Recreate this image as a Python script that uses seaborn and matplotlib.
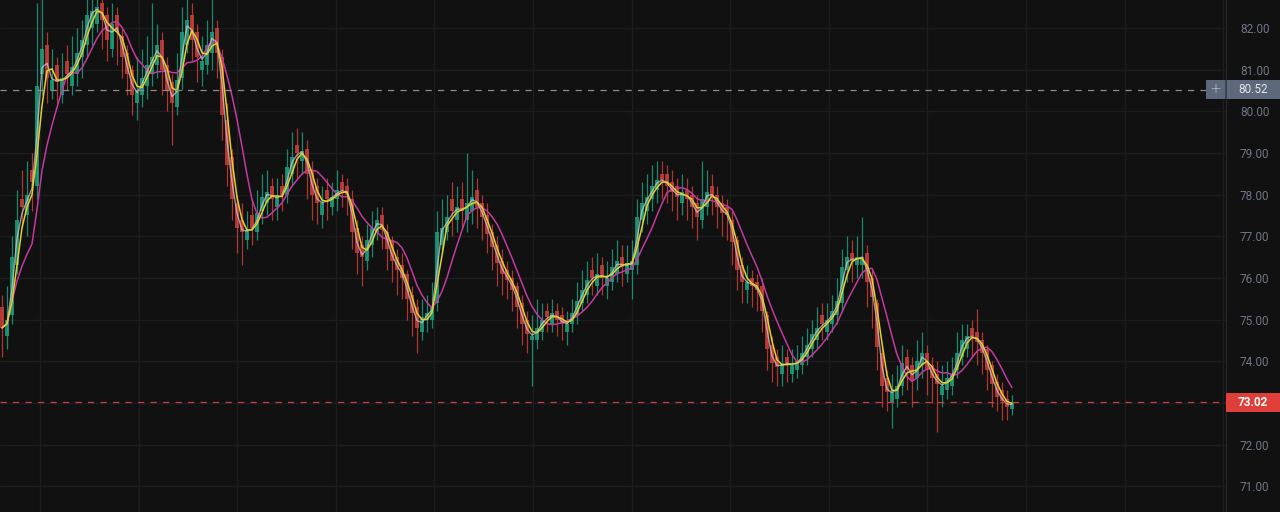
import matplotlib
matplotlib.use('Agg')
import matplotlib.pyplot as plt
from matplotlib.patches import Rectangle
import seaborn as sns
import numpy as np
import pandas as pd

BG_COLOR = '#111111'
GRID_COLOR = '#1d1d1f'
UP_COLOR = '#1f9e7c'
DOWN_COLOR = '#c8403a'
LABEL_COLOR = '#6e7585'

# candle data
closes = [
    74.8, 75.0, 76.5, 77.4, 77.7, 78.0, 78.3, 80.6, 81.5, 80.8,
    80.75, 80.7, 80.8, 80.9, 81.05, 81.4, 81.7, 82.3, 82.4, 82.5,
    82.2, 81.7, 82.1, 81.9, 81.3, 80.9, 80.4, 80.5, 80.8, 81.1,
    81.3, 81.6, 81.0, 80.5, 80.2, 80.75, 81.9, 82.2, 81.7, 81.3,
    81.2, 81.6, 81.9, 81.4, 79.9, 78.7, 77.9, 77.2, 77.1, 77.15,
    77.2, 77.55, 77.95, 78.05, 77.9, 77.95, 78.0, 78.65, 78.9, 79.0,
    79.05, 78.5, 78.0, 77.8, 77.8, 77.9, 77.95, 78.1, 78.1, 78.0,
    77.1, 76.6, 76.5, 76.9, 77.2, 77.4, 77.15, 76.7, 76.4, 76.2,
    76.0, 75.5, 75.15, 74.8, 75.05, 75.15, 75.3, 77.1, 77.2, 77.45,
    77.6, 77.7, 77.6, 77.8, 77.95, 77.7, 77.45, 77.05, 76.75, 76.35,
    76.1, 75.95, 75.7, 75.3, 74.9, 74.65, 74.6, 74.8, 75.0, 75.05,
    75.15, 75.0, 74.9, 74.9, 75.15, 75.45, 75.7, 75.95, 76.0, 76.1,
    76.0, 76.0, 76.25, 76.4, 76.25, 76.35, 76.4, 77.45, 77.8, 77.95,
    78.2, 78.35, 78.35, 78.2, 78.05, 77.95, 78.05, 77.9, 77.7, 77.45,
    77.9, 78.05, 77.95, 77.7, 77.55, 77.5, 76.85, 76.2, 75.9, 75.9,
    75.8, 75.7, 75.2, 74.3, 73.95, 73.85, 73.95, 73.95, 73.9, 74.0,
    74.2, 74.4, 74.65, 74.8, 74.9, 75.0, 75.2, 75.45, 76.25, 76.5,
    76.4, 76.5, 76.5, 75.9, 75.55, 74.35, 73.4, 73.25, 73.25, 73.4,
    73.95, 73.8, 73.55, 74.0, 74.2, 73.8, 73.6, 73.45, 73.4, 73.6,
    73.7, 74.2, 74.5, 74.6, 74.6, 74.45, 74.2, 73.8, 73.45, 73.15,
    73.05, 72.9, 73.02,
]
opens = [
    75.3, 74.6, 75.1, 76.3, 77.9, 77.5, 78.6, 78.2, 80.9, 81.6,
    80.5, 81.1, 80.4, 81.2, 80.6, 80.9, 81.3, 81.6, 82.0, 82.1,
    82.6, 82.3, 81.5, 82.3, 81.8, 81.4, 81.0, 80.2, 80.4, 80.6,
    80.9, 81.1, 81.7, 81.1, 80.7, 80.1, 80.8, 81.6, 82.3, 81.9,
    81.0, 81.1, 81.4, 82.0, 81.3, 79.8, 78.9, 77.8, 77.4, 76.9,
    77.5, 77.1, 77.6, 77.8, 78.2, 77.7, 78.2, 78.0, 78.5, 79.2,
    78.8, 79.1, 78.6, 78.2, 77.5, 78.1, 77.7, 77.9, 78.3, 78.2,
    77.9, 77.2, 76.8, 76.4, 76.8, 77.1, 77.5, 77.1, 76.9, 76.5,
    76.3, 76.1, 75.6, 75.3, 74.7, 75.0, 75.0, 75.4, 76.8, 77.1,
    77.9, 77.4, 77.9, 77.4, 77.6, 78.1, 77.8, 77.5, 77.1, 76.8,
    76.4, 76.2, 76.0, 75.8, 75.4, 75.0, 74.5, 74.5, 74.7, 75.2,
    74.9, 75.2, 75.1, 74.7, 74.9, 75.1, 75.4, 75.6, 76.2, 75.8,
    76.3, 75.8, 75.9, 76.1, 76.5, 76.1, 76.2, 76.3, 77.4, 77.6,
    77.9, 78.1, 78.5, 78.5, 78.3, 78.2, 77.8, 78.1, 78.0, 77.8,
    77.4, 77.7, 78.2, 78.0, 77.8, 77.7, 77.4, 76.9, 76.3, 75.7,
    76.0, 75.9, 75.8, 75.1, 74.4, 74.1, 73.7, 74.1, 73.7, 73.8,
    73.9, 74.1, 74.3, 74.5, 75.1, 74.7, 74.9, 75.1, 75.4, 76.2,
    76.6, 76.3, 76.3, 76.6, 76.0, 75.4, 74.2, 73.6, 73.0, 73.1,
    73.4, 74.1, 73.9, 73.6, 73.9, 74.2, 73.9, 73.7, 73.2, 73.3,
    73.4, 73.8, 74.1, 74.3, 74.8, 74.7, 74.5, 74.3, 73.9, 73.5,
    73.3, 73.1, 72.85,
]
highs = [
    75.6, 75.8, 77.0, 78.1, 78.6, 78.8, 79.0, 82.6, 82.7, 81.9,
    81.5, 81.3, 81.4, 81.6, 81.8, 82.0, 82.2, 82.7, 82.7, 82.7,
    82.7, 82.5, 82.6, 82.5, 82.0, 81.6, 81.1, 81.3, 81.5, 81.8,
    82.6, 82.1, 81.9, 81.3, 80.9, 81.4, 82.5, 82.7, 82.6, 82.1,
    81.8, 82.2, 82.7, 82.2, 81.5, 80.2, 79.1, 78.0, 77.8, 77.6,
    77.9, 78.1, 78.5, 78.6, 78.4, 78.4, 78.5, 79.1, 79.5, 79.6,
    79.5, 79.3, 78.8, 78.4, 78.2, 78.4, 78.3, 78.6, 78.5, 78.4,
    78.1, 77.4, 77.0, 77.3, 77.6, 77.7, 77.7, 77.3, 77.0, 76.7,
    76.6, 76.2, 75.8, 75.5, 75.5, 75.6, 75.9, 77.6, 77.9, 78.0,
    78.3, 78.2, 78.3, 79.0, 78.6, 78.4, 78.0, 77.8, 77.3, 77.0,
    76.7, 76.4, 76.2, 75.9, 75.6, 75.2, 75.1, 75.5, 75.4, 75.4,
    75.5, 75.4, 75.3, 75.2, 75.5, 75.9, 76.2, 76.4, 76.5, 76.6,
    76.5, 76.4, 76.7, 76.9, 76.8, 76.8, 76.9, 77.9, 78.3, 78.5,
    78.7, 78.8, 78.8, 78.7, 78.6, 78.4, 78.5, 78.4, 78.2, 78.0,
    78.8, 78.6, 78.5, 78.2, 78.0, 77.9, 77.6, 77.0, 76.5, 76.3,
    76.2, 76.1, 76.0, 75.2, 74.6, 74.3, 74.4, 74.3, 74.3, 74.4,
    74.6, 74.8, 75.0, 75.3, 75.4, 75.4, 75.6, 76.0, 76.7, 77.0,
    76.9, 77.0, 77.45, 76.8, 76.2, 75.5, 74.4, 73.8, 73.7, 73.9,
    74.4, 74.3, 74.1, 74.5, 74.7, 74.4, 74.1, 74.0, 73.9, 74.0,
    74.1, 74.7, 74.9, 74.9, 75.0, 75.25, 74.7, 74.4, 74.0, 73.7,
    73.5, 73.3, 73.2,
]
lows = [
    74.1, 74.3, 74.9, 76.1, 77.2, 77.0, 77.6, 77.9, 80.4, 80.2,
    80.3, 80.2, 80.2, 80.5, 80.4, 80.6, 80.8, 81.3, 81.6, 81.9,
    81.5, 81.2, 81.3, 81.1, 80.8, 80.4, 79.9, 79.8, 80.1, 80.3,
    80.6, 80.8, 80.4, 80.0, 79.2, 79.9, 80.5, 81.4, 81.2, 80.7,
    80.6, 80.9, 81.0, 80.8, 79.3, 78.2, 77.4, 76.6, 76.3, 76.7,
    76.8, 76.9, 77.3, 77.5, 77.4, 77.4, 77.6, 77.8, 78.2, 78.4,
    78.5, 77.9, 77.4, 77.3, 77.2, 77.4, 77.5, 77.6, 77.7, 77.5,
    76.7, 76.1, 75.8, 76.2, 76.5, 76.9, 76.7, 76.2, 75.9, 75.6,
    75.5, 75.0, 74.6, 74.2, 74.5, 74.7, 74.8, 75.2, 76.6, 76.9,
    77.0, 77.1, 77.2, 77.1, 77.3, 77.2, 76.9, 76.6, 76.2, 75.8,
    75.6, 75.5, 75.2, 74.8, 74.4, 74.2, 73.4, 74.3, 74.5, 74.7,
    74.7, 74.6, 74.5, 74.4, 74.7, 74.9, 75.2, 75.4, 75.6, 75.6,
    75.6, 75.5, 75.7, 75.9, 75.8, 75.9, 75.5, 76.1, 77.1, 77.3,
    77.6, 77.8, 77.9, 77.8, 77.6, 77.4, 77.5, 77.4, 77.2, 76.9,
    77.2, 77.5, 77.5, 77.2, 77.0, 76.9, 76.3, 75.7, 75.4, 75.4,
    75.3, 75.2, 74.7, 73.8, 73.5, 73.4, 73.4, 73.5, 73.5, 73.6,
    73.7, 73.9, 74.1, 74.3, 74.5, 74.5, 74.7, 74.9, 75.2, 75.9,
    75.9, 76.0, 76.0, 75.3, 74.8, 73.8, 72.9, 72.8, 72.4, 72.9,
    73.2, 73.3, 72.9, 73.3, 73.6, 73.2, 73.0, 72.3, 72.9, 73.1,
    73.2, 73.6, 73.9, 74.1, 74.1, 73.9, 73.7, 73.3, 72.9, 72.8,
    72.6, 72.6, 72.7,
]

price_ticks = [71, 72, 73, 74, 75, 76, 77, 78, 79, 80, 81, 82]
last_price = 73.02
cross_price = 80.52

df = pd.DataFrame({'open': opens, 'high': highs, 'low': lows, 'close': closes})
df['idx'] = np.arange(len(df))
df['ma_fast'] = df['close'].rolling(2, min_periods=1).mean()
df['ma_mid'] = df['close'].rolling(3, min_periods=1).mean()
df['ma_slow'] = df['close'].rolling(7, min_periods=1).mean()

sns.set_theme(style='dark')
plt.rcParams['figure.facecolor'] = BG_COLOR
plt.rcParams['axes.facecolor'] = BG_COLOR
plt.rcParams['font.family'] = ['Roboto', 'DejaVu Sans']

fig = plt.figure(figsize=(12.8, 5.12), dpi=100)
ax = fig.add_axes([0, 0, 1226 / 1280, 1])
ax.set_facecolor(BG_COLOR)

# grid
for p in price_ticks:
    ax.axhline(p, color=GRID_COLOR, linewidth=1, zorder=0)
for gx in np.arange(7.6, 245, 19.72):
    ax.axvline(gx, color=GRID_COLOR, linewidth=1, zorder=0)

# candles
up = df['close'] >= df['open']
colors = np.where(up, UP_COLOR, DOWN_COLOR)
ax.vlines(df['idx'], df['low'], df['high'], colors=colors, linewidth=0.9, alpha=0.85, zorder=2)
body_bottom = np.minimum(df['open'], df['close'])
body_height = np.maximum(np.abs(df['close'] - df['open']), 0.03)
ax.bar(df['idx'], body_height, bottom=body_bottom, width=0.7, color=colors,
       alpha=0.85, linewidth=0, zorder=2)

# moving averages
sns.lineplot(data=df, x='idx', y='ma_slow', ax=ax, color='#c23a9f', linewidth=1.1, zorder=3)
sns.lineplot(data=df, x='idx', y='ma_fast', ax=ax, color='#d6cfd3', linewidth=1.0, alpha=0.7, zorder=4)
sns.lineplot(data=df, x='idx', y='ma_mid', ax=ax, color='#e3cf2b', linewidth=1.1, zorder=5)

# price lines
ax.axhline(cross_price, xmin=0, xmax=1206 / 1226, color='#8c8c8c', linewidth=0.9,
           dashes=(5, 5), zorder=6)
ax.axhline(last_price, color='#c8403a', linewidth=0.9, dashes=(5, 5), zorder=6)

ax.set_xlim(-0.4, 244.8)
ax.set_ylim(70.38, 82.67)
ax.set_xlabel('')
ax.set_ylabel('')
ax.set_xticks([])
ax.set_yticks(price_ticks)
ax.set_yticklabels([f'{p:.2f}' for p in price_ticks])
ax.yaxis.tick_right()
ax.tick_params(axis='y', length=0, pad=10, labelsize=8.5, labelcolor=LABEL_COLOR)
ax.grid(False)
for side in ['top', 'left', 'bottom']:
    ax.spines[side].set_visible(False)
ax.spines['right'].set_color('#242426')
ax.spines['right'].set_linewidth(1)

# price labels on the axis
def y_fig(price):
    lo, hi = ax.get_ylim()
    return (price - lo) / (hi - lo)

h = 19 / 512
fig.patches.append(Rectangle((1226 / 1280, y_fig(last_price) - h / 2), 54 / 1280, h,
                             transform=fig.transFigure, facecolor='#de3f39', edgecolor='none', zorder=10))
fig.text(1253 / 1280, y_fig(last_price), f'{last_price:.2f}', color='white', fontsize=8.5,
         fontweight='bold', ha='center', va='center', zorder=11)

fig.patches.append(Rectangle((1206 / 1280, y_fig(cross_price) - h / 2), 74 / 1280, h,
                             transform=fig.transFigure, facecolor='#5d687c', edgecolor='none', zorder=10))
fig.patches.append(Rectangle((1225 / 1280, y_fig(cross_price) - h / 2), 1.5 / 1280, h,
                             transform=fig.transFigure, facecolor='#3c4454', edgecolor='none', zorder=11))
fig.text(1215.5 / 1280, y_fig(cross_price), '+', color='#e8eaef', fontsize=13,
         fontweight='light', ha='center', va='center', zorder=11)
fig.text(1253 / 1280, y_fig(cross_price), f'{cross_price:.2f}', color='#e3e6ec', fontsize=8.5,
         ha='center', va='center', zorder=11)

plt.savefig('out.png', dpi=100, facecolor=BG_COLOR)
